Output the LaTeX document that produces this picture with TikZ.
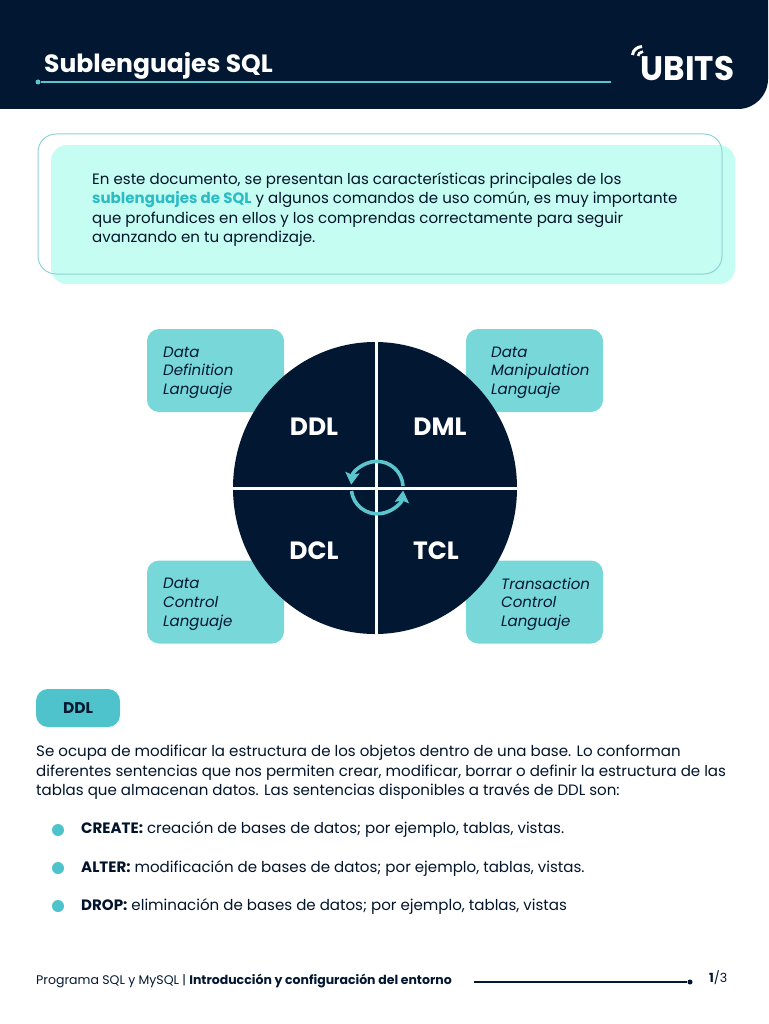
\documentclass[tikz,border=0pt]{standalone}
\usepackage{fontspec}
\setmainfont{Poppins}
\usetikzlibrary{arrows.meta, shapes.geometric}
\definecolor{navy}{HTML}{021731}
\definecolor{tealbox}{HTML}{78D8D9}
\definecolor{mint}{HTML}{C5FDF2}
\definecolor{tealline}{HTML}{5CC4CC}
\definecolor{tealtext}{HTML}{2BBCC4}
\definecolor{pill}{HTML}{4FC3CC}
\definecolor{outline}{HTML}{8FD3D6}
\tikzset{
  lang/.style={draw=none, fill=tealbox, rounded corners=12pt, minimum width=137pt, minimum height=83pt, inner sep=0},
  quad/.style={text=white, font=\fontsize{25}{27}\selectfont\bfseries, inner sep=0},
  langtext/.style={anchor=north west, align=left, inner sep=0, text=navy, font=\fontsize{15}{18.8}\selectfont\itshape},
  body/.style={anchor=north west, align=left, inner sep=0, text=navy!85!black, font=\fontsize{15.05}{19.4}\selectfont},
  bullet/.style={circle, fill=pill, minimum size=12pt, inner sep=0},
  cycle arrow/.style={line width=3.6pt, draw=tealline, -{Stealth[length=12pt,width=14pt,inset=2pt]}},
}
\begin{document}
\begin{tikzpicture}[x=1pt, y=-1pt]
\useasboundingbox (0,0) rectangle (768,1024);
% Header:
\fill[navy] (0,0) -- (768,0) [rounded corners=30pt] -- (768,109) [sharp corners] -- (0,109) -- cycle;
\node[anchor=base west, inner sep=0, text=white, font=\fontsize{25}{27}\selectfont\bfseries] (title) at (44,73) {Sublenguajes SQL};
\node[circle, fill=tealline, minimum size=5pt, inner sep=0] (titledot) at (38,82) {};
\coordinate (titleend) at (611,82);
\draw[line width=1.5pt, tealline] (titledot) -- (titleend);
\node[anchor=base west, inner sep=0, text=white, font=\fontsize{34}{36}\selectfont\bfseries, xscale=0.96] (logo) at (640.5,81) {UBITS};
\draw[white, line width=3pt] (632.5,55) .. controls (633,50) and (637,47) .. (642,46.5);
\draw[white, line width=2.6pt] (638,56) .. controls (638,54) and (640,52) .. (643,51.5);
% Intro:
\node[fill=mint, rounded corners=16pt, minimum width=684pt, minimum height=139pt, inner sep=0] (introfill) at (393,214.5) {};
\node[draw=outline, line width=1pt, rounded corners=18pt, minimum width=684pt, minimum height=140pt, inner sep=0] (introframe) at (380,204) {};
\node[body] (intro) at (92,172.5) {En este documento, se presentan las características principales de los\\
{\bfseries\color{tealtext}sublenguajes de SQL} y algunos comandos de uso común, es muy importante\\
que profundices en ellos y los comprendas correctamente para seguir\\
avanzando en tu aprendizaje.};
% Wheel:
\node[lang] (ddlbox) at (215.5,370.5) {};
\node[lang] (dmlbox) at (534.5,370.5) {};
\node[lang] (dclbox) at (215.5,602) {};
\node[lang] (tclbox) at (534.5,602) {};
\node[ellipse, fill=navy, minimum width=284pt, minimum height=292pt, inner sep=0] (wheel) at (375,488) {};
\coordinate (wheeltop) at (376.5,342);
\coordinate (wheelbottom) at (376.5,634);
\draw[white, line width=3pt] (wheeltop) -- (wheelbottom);
\draw[white, line width=3pt] (wheel.west) -- (wheel.east);
\node[quad] (ddl) at (314,427) {DDL};
\node[quad] (dml) at (440,427) {DML};
\node[quad] (dcl) at (314,551) {DCL};
\node[quad] (tcl) at (436,551) {TCL};
\node[langtext] (ddltext) at (163,346.5) {Data\\Definition\\Languaje};
\node[langtext] (dmltext) at (491,346.5) {Data\\Manipulation\\Languaje};
\node[langtext] (dcltext) at (163,578) {Data\\Control\\Languaje};
\node[langtext] (tcltext) at (501,577.5) {Transaction\\Control\\Languaje};
\coordinate (cycleA) at (403,486);
\coordinate (cycleB) at (351.5,491);
\draw[cycle arrow] (cycleA) arc[start angle=3, end angle=174, radius=26pt];
\draw[cycle arrow] (cycleB) arc[start angle=187, end angle=354, radius=26pt];
% DDL section:
\node[fill=pill, rounded corners=12pt, minimum width=84pt, minimum height=38pt, inner sep=0, text=navy, font=\fontsize{15.5}{18}\selectfont\bfseries] (ddlpill) at (78,708) {DDL};
\node[body] (ddlintro) at (36,745) {Se ocupa de modificar la estructura de los objetos dentro de una base. Lo conforman\\
diferentes sentencias que nos permiten crear, modificar, borrar o definir la estructura de las\\
tablas que almacenan datos. Las sentencias disponibles a través de DDL son:};
\node[bullet] (dot1) at (58,830) {};
\node[bullet] (dot2) at (58,868) {};
\node[bullet] (dot3) at (58,906) {};
\node[body, anchor=west] (create) at (81,830) {\textbf{CREATE:} creación de bases de datos; por ejemplo, tablas, vistas.};
\node[body, anchor=west] (alter) at (81,869) {\textbf{ALTER:} modificación de bases de datos; por ejemplo, tablas, vistas.};
\node[body, anchor=west] (drop) at (81,907) {\textbf{DROP:} eliminación de bases de datos; por ejemplo, tablas, vistas};
% Footer:
\node[anchor=west, inner sep=0, text=navy, font=\fontsize{12.5}{15}\selectfont] (footer) at (36,980.5) {Programa SQL y MySQL | \textbf{Introducción y configuración del entorno}};
\coordinate (footstart) at (474,982);
\node[circle, fill=navy, minimum size=5pt, inner sep=0] (footdot) at (690,982) {};
\draw[navy, line width=1.6pt] (footstart) -- (footdot);
\node[anchor=west, inner sep=0, text=navy, font=\fontsize{12.6}{15}\selectfont] (page) at (709,978) {\textbf{1}/3};
\end{tikzpicture}
\end{document}
